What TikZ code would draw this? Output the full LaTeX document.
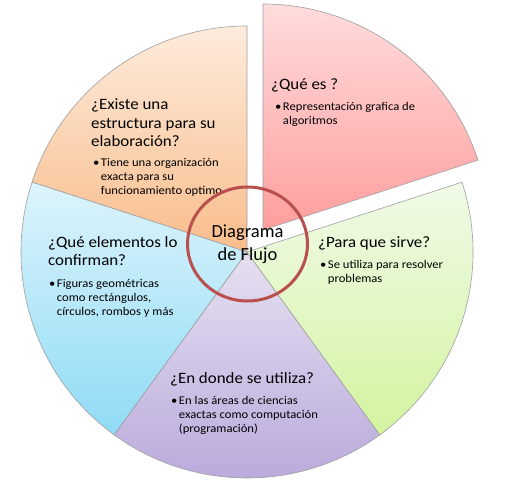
\documentclass[tikz,border=0pt]{standalone}
\usepackage{fontspec}
\setmainfont{Carlito}
\newfontfamily\widefont{Carlito}[FakeStretch=1.07]
\usepackage{xcolor}
\usepackage{tikz}
\usetikzlibrary{positioning}
\usetikzlibrary{shapes.geometric}

\definecolor{redtop}{HTML}{FFDCDC}
\definecolor{redbot}{HTML}{FF9E9E}
\definecolor{orangetop}{HTML}{FDEBDC}
\definecolor{orangebot}{HTML}{F9BD8C}
\definecolor{bluetop}{HTML}{DDF4FC}
\definecolor{bluebot}{HTML}{8FDBF5}
\definecolor{purpletop}{HTML}{E6E0F1}
\definecolor{purplebot}{HTML}{B8A7DB}
\definecolor{greentop}{HTML}{F1FAE8}
\definecolor{greenbot}{HTML}{D3F4A0}
\definecolor{hubred}{HTML}{B9504D}

\begin{document}
\begin{tikzpicture}[
    x=1pt, y=1pt,
    sector/.style={
        draw=gray!75,
        line width=0.6pt
    },
    title/.style={
        anchor=base west,
        inner sep=0pt,
        font=\widefont\fontsize{15.8}{18.5}\selectfont
    },
    point/.style={
        anchor=base west,
        inner sep=0pt,
        font=\widefont\fontsize{11.8}{14}\selectfont
    },
    hub/.style={
        ellipse,
        draw=hubred,
        line width=3pt,
        minimum width=120pt,
        minimum height=114pt,
        align=center,
        font=\fontsize{18.5}{23.5}\selectfont
    }
]
\useasboundingbox (0,0) rectangle (513,485);

\coordinate (pie) at (247,233);
\coordinate (pieRed) at (263,255);

% sectors
\path[sector, top color=redtop, bottom color=redbot]
    (pieRed) -- ++(18:226) arc[start angle=18, end angle=90, radius=226] -- cycle;
\path[sector, top color=orangetop, bottom color=orangebot]
    (pie) -- ++(90:226) arc[start angle=90, end angle=162, radius=226] -- cycle;
\path[sector, top color=bluetop, bottom color=bluebot]
    (pie) -- ++(162:226) arc[start angle=162, end angle=234, radius=226] -- cycle;
\path[sector, top color=purpletop, bottom color=purplebot]
    (pie) -- ++(234:226) arc[start angle=234, end angle=306, radius=226] -- cycle;
\path[sector, top color=greentop, bottom color=greenbot]
    (pie) -- ++(306:226) arc[start angle=306, end angle=378, radius=226] -- cycle;

% texts
\node[title] (queT) at (271,395) {
    \begin{tabular}[t]{@{}l@{}}
    ¿Qué es ?
    \end{tabular}
};
\node[point] (queP) at (275,374) {
    \begin{tabular}[t]{@{}l@{\hspace{1.5pt}}l@{}}
    \textbullet & Representación grafica de \\
     & algoritmos
    \end{tabular}
};

\node[title] (existeT) at (91,375) {
    \begin{tabular}[t]{@{}l@{}}
    ¿Existe una \\
    estructura para su \\
    elaboración?
    \end{tabular}
};
\node[point] (existeP) at (93,318) {
    \begin{tabular}[t]{@{}l@{\hspace{1.5pt}}l@{}}
    \textbullet & Tiene una organización \\
     & exacta para su \\
     & funcionamiento optimo
    \end{tabular}
};

\node[title] (elementosT) at (48,238) {
    \begin{tabular}[t]{@{}l@{}}
    ¿Qué elementos lo \\
    confirman?
    \end{tabular}
};
\node[point] (elementosP) at (49,198) {
    \begin{tabular}[t]{@{}l@{\hspace{1.5pt}}l@{}}
    \textbullet & Figuras geométricas \\
     & como rectángulos, \\
     & círculos, rombos y más
    \end{tabular}
};

\node[title] (dondeT) at (170,102) {
    \begin{tabular}[t]{@{}l@{}}
    ¿En donde se utiliza?
    \end{tabular}
};
\node[point] (dondeP) at (171,81) {
    \begin{tabular}[t]{@{}l@{\hspace{1.5pt}}l@{}}
    \textbullet & En las áreas de ciencias \\
     & exactas como computación \\
     & (programación)
    \end{tabular}
};

\node[title] (sirveT) at (318,238) {
    \begin{tabular}[t]{@{}l@{}}
    ¿Para que sirve?
    \end{tabular}
};
\node[point] (sirveP) at (320,217) {
    \begin{tabular}[t]{@{}l@{\hspace{1.5pt}}l@{}}
    \textbullet & Se utiliza para resolver \\
     & problemas
    \end{tabular}
};

% centre
\node[hub] (diagrama) at (247.5,241) {Diagrama\\de Flujo};

\end{tikzpicture}
\end{document}
